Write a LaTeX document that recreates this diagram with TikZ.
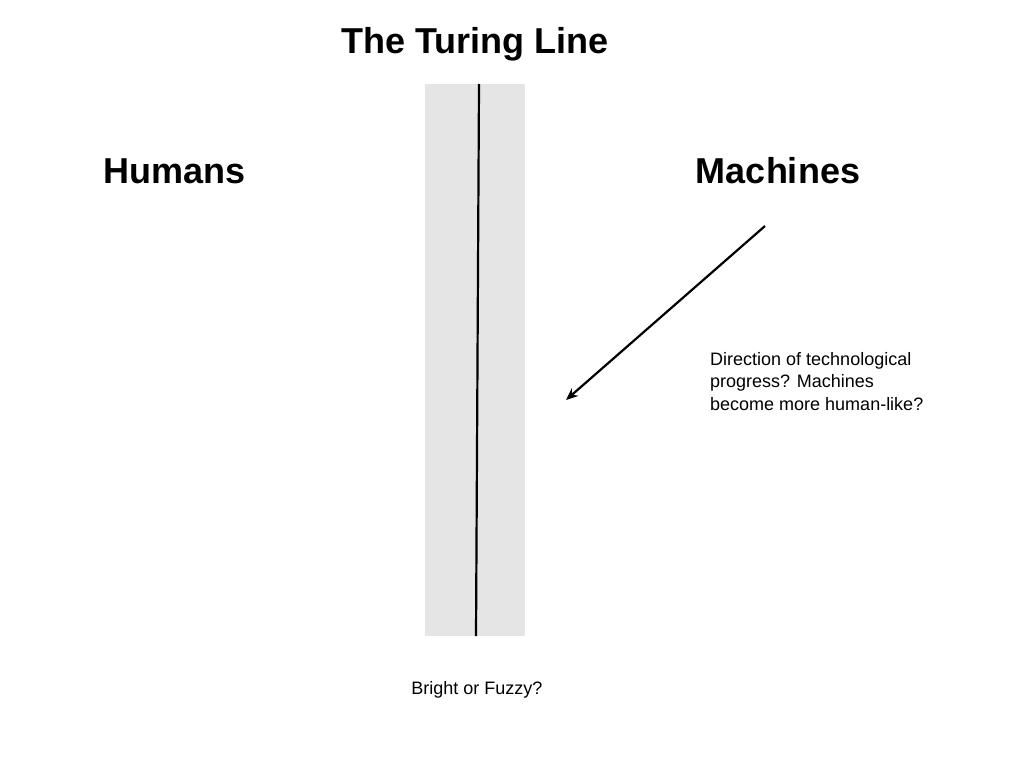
\documentclass[tikz,border=0pt]{standalone}
\usepackage{fontspec}
\setmainfont{Liberation Sans}
\usetikzlibrary{arrows.meta}
\begin{document}
\begin{tikzpicture}[x=1pt,y=-1pt,
  big/.style={font=\bfseries\fontsize{36}{40}\selectfont},
  small/.style={font=\fontsize{18}{22.5}\selectfont, align=left}]
\useasboundingbox (0,0) rectangle (1024,768);
\fill[gray!20] (425,84) rectangle (525,636);
\coordinate (lt) at (479,84);
\coordinate (lb) at (476,636);
\draw[line width=2.2pt] (lt) -- (lb);
\node[big] (title) at (475,44) {The Turing Line};
\node[big] (hum) at (175,171) {Humans};
\node[big] (mac) at (778,171) {Machines};
\coordinate (as) at (765,226);
\coordinate (ae) at (566,400);
\draw[line width=2.2pt,-{Stealth[length=12pt,width=10pt]}] (as) -- (ae);
\node[small,anchor=north west,inner sep=0] (dir) at (710,352) {Direction of technological\\progress? Machines\\become more human-like?};
\node[small] (bf) at (477,690) {Bright or Fuzzy?};
\end{tikzpicture}
\end{document}
